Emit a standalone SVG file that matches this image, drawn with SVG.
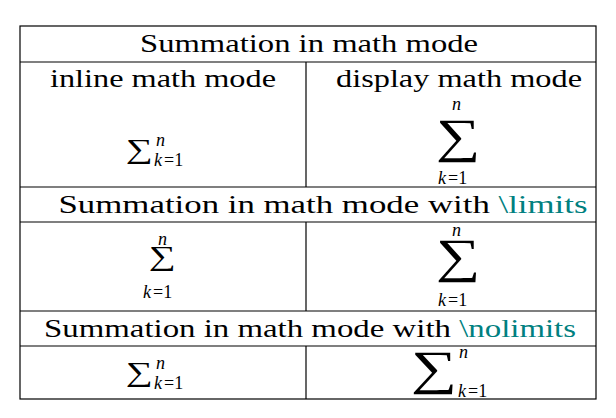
<svg xmlns="http://www.w3.org/2000/svg" width="616" height="418" viewBox="0 0 616 418">
<style>
text{font-family:"Liberation Serif","DejaVu Serif",serif;fill:#000}
.t{font-size:26px;text-anchor:middle}
.i{font-style:italic;font-size:18px}
.c{fill:#008080}
.big{font-size:48px}
.sm{font-size:27px}
line{stroke:#000;stroke-width:1.2}
</style>
<rect width="616" height="418" fill="#fff"/>
<g id="grid">
<rect x="20" y="26" width="576" height="373" fill="none" stroke="#000" stroke-width="1.2"/>
<line x1="20" y1="62" x2="596" y2="62"/>
<line x1="20" y1="187" x2="596" y2="187"/>
<line x1="20" y1="222" x2="596" y2="222"/>
<line x1="20" y1="311" x2="596" y2="311"/>
<line x1="20" y1="346" x2="596" y2="346"/>
<line x1="306" y1="62" x2="306" y2="187"/>
<line x1="306" y1="222" x2="306" y2="311"/>
<line x1="306" y1="346" x2="306" y2="399"/>
</g>
<g id="h1"><text class="t" x="309" y="52" textLength="338" lengthAdjust="spacingAndGlyphs">Summation in math mode</text></g>
<g id="h2"><text class="t" x="163" y="87" textLength="226" lengthAdjust="spacingAndGlyphs">inline math mode</text><text class="t" x="459" y="87" textLength="246" lengthAdjust="spacingAndGlyphs">display math mode</text></g>
<g id="s1"><text class="sm" transform="translate(126,158) scale(1.4,1)">∑</text><text class="i" x="156" y="146">n</text><text class="i" x="154" y="166">k</text><text x="164" y="166" font-size="18">=1</text></g>
<g id="s2"><text class="big" transform="translate(436,152) scale(1.3,1)">∑</text><text class="i" x="452" y="110">n</text><text class="i" x="438" y="184">k</text><text x="448" y="184" font-size="18">=1</text></g>
<g id="h3"><text class="t" x="323" y="213" textLength="529" lengthAdjust="spacingAndGlyphs">Summation in math mode with <tspan class="c">\limits</tspan></text></g>
<g id="s3"><text class="sm" transform="translate(149,265) scale(1.4,1)">∑</text><text class="i" x="158" y="245">n</text><text class="i" x="143" y="298">k</text><text x="153" y="298" font-size="18">=1</text></g>
<g id="s4"><text class="big" transform="translate(436,272) scale(1.3,1)">∑</text><text class="i" x="452" y="236">n</text><text class="i" x="438" y="306">k</text><text x="448" y="306" font-size="18">=1</text></g>
<g id="h4"><text class="t" x="310" y="337" textLength="532" lengthAdjust="spacingAndGlyphs">Summation in math mode with <tspan class="c">\nolimits</tspan></text></g>
<g id="s5"><text class="sm" transform="translate(126,381) scale(1.4,1)">∑</text><text class="i" x="156" y="369">n</text><text class="i" x="154" y="389">k</text><text x="164" y="389" font-size="18">=1</text></g>
<g id="s6"><text class="big" transform="translate(411,384) scale(1.35,1)">∑</text><text class="i" x="459" y="358">n</text><text class="i" x="458" y="397">k</text><text x="468" y="397" font-size="18">=1</text></g>
</svg>
